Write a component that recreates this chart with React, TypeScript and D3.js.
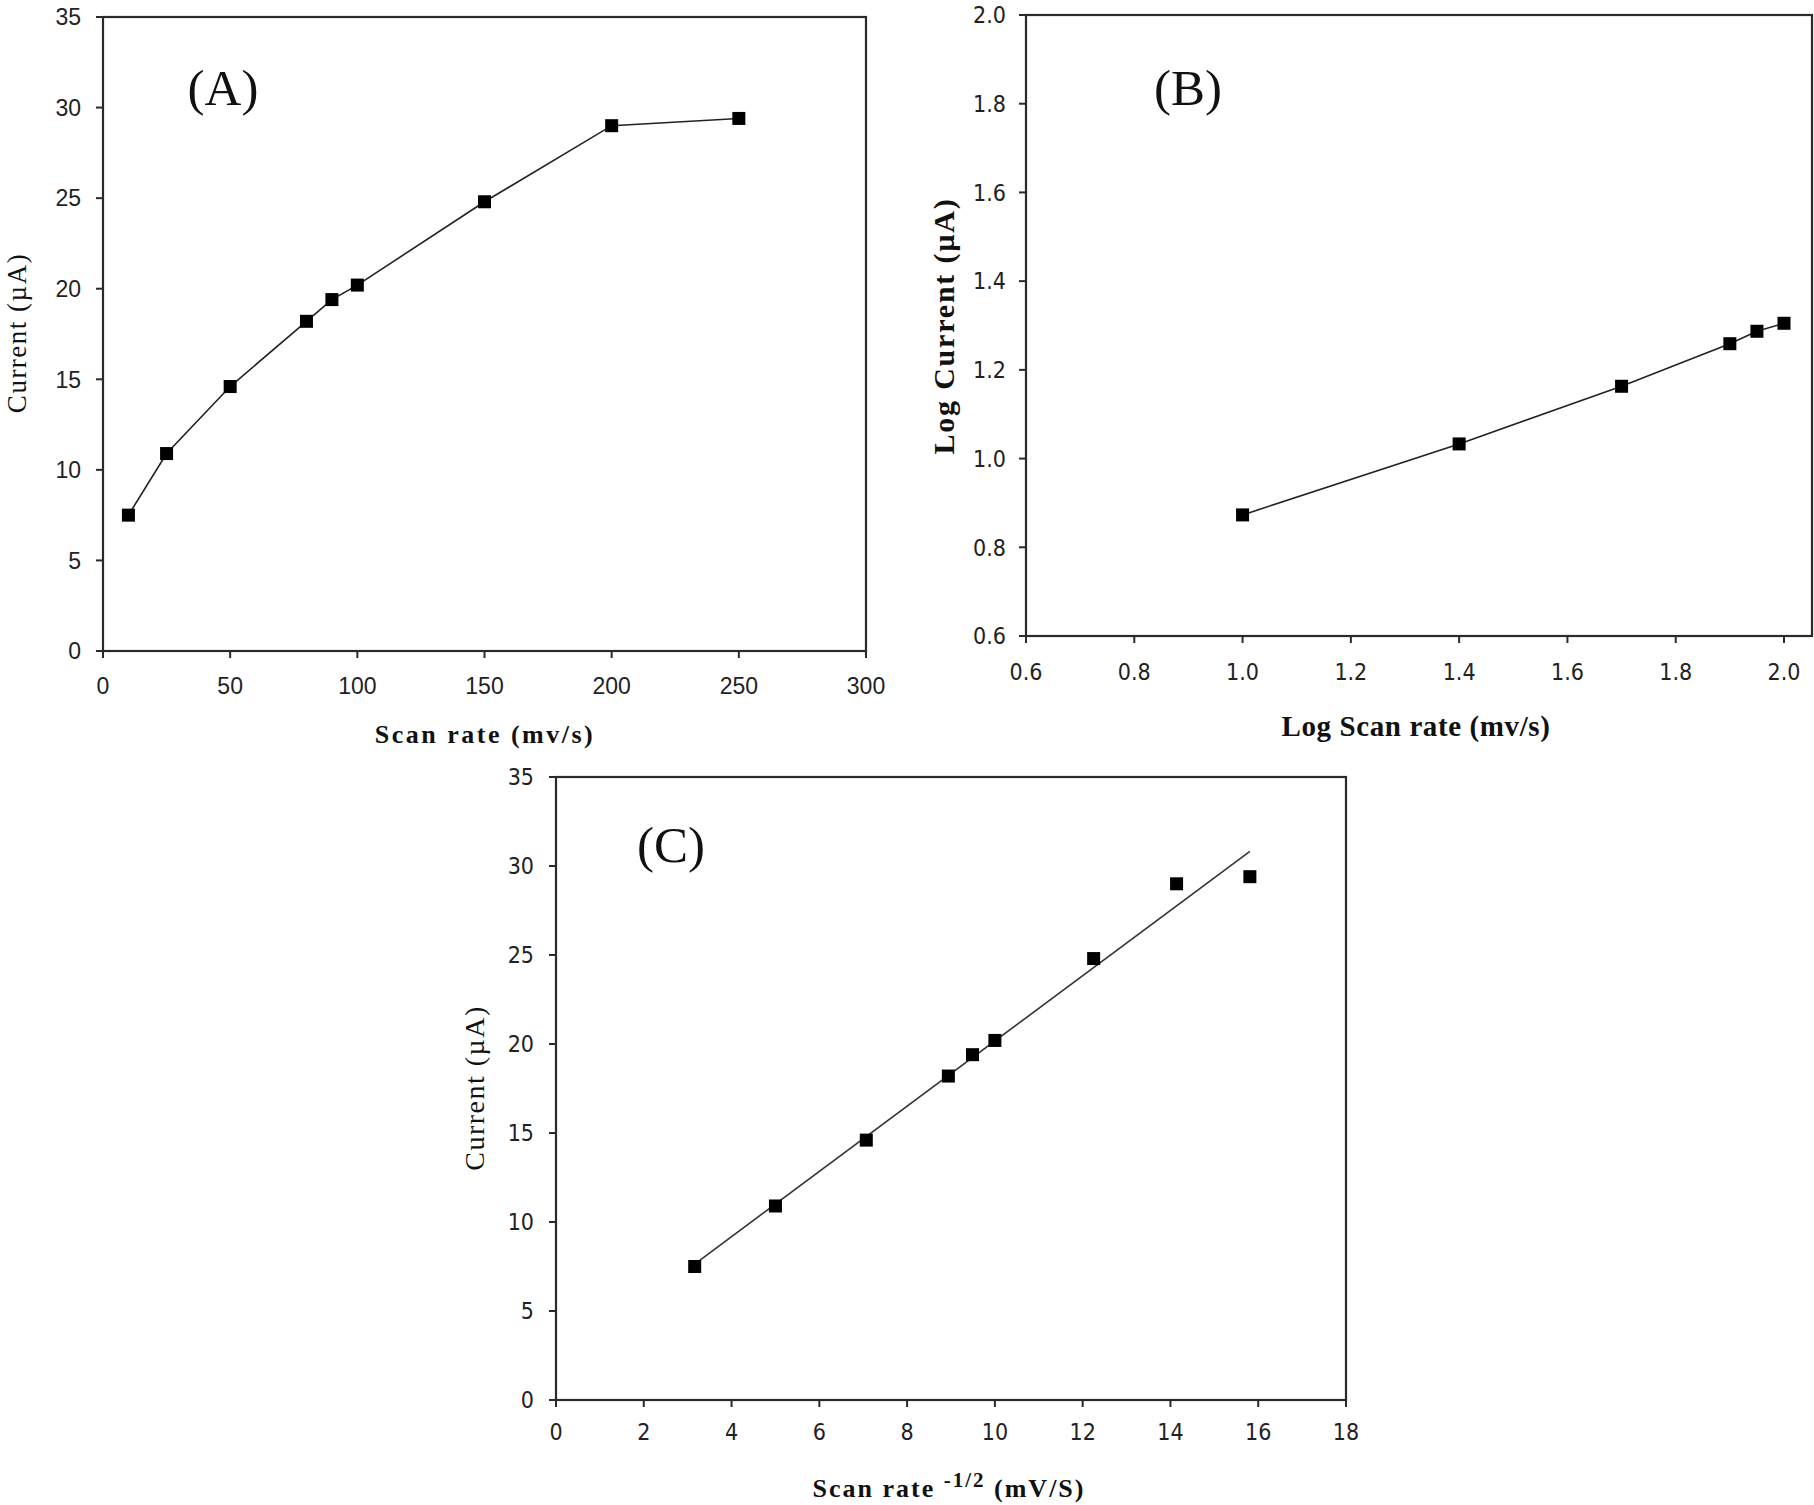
import React from "react";
import * as d3 from "d3";

// Scan rate study: peak current vs scan rate, log-log plot, and current vs square-root scan rate
const scanRate = [10, 25, 50, 80, 90, 100, 150, 200, 250];
const current = [7.5, 10.9, 14.6, 18.2, 19.4, 20.2, 24.8, 29.0, 29.4];

const logScanRate = [1.0, 1.4, 1.7, 1.9, 1.95, 2.0];
const logCurrent = [0.873, 1.033, 1.163, 1.259, 1.287, 1.305];

const sqrtScanRate = [3.16, 5.0, 7.07, 8.94, 9.49, 10.0, 12.25, 14.14, 15.81];
const fitSlope = 1.833;
const fitIntercept = 1.84;

const ticksA_x = [0, 50, 100, 150, 200, 250, 300];
const ticksA_y = [0, 5, 10, 15, 20, 25, 30, 35];
const ticksB_x = [0.6, 0.8, 1.0, 1.2, 1.4, 1.6, 1.8, 2.0];
const ticksB_y = [0.6, 0.8, 1.0, 1.2, 1.4, 1.6, 1.8, 2.0];
const ticksC_x = [0, 2, 4, 6, 8, 10, 12, 14, 16, 18];
const ticksC_y = [0, 5, 10, 15, 20, 25, 30, 35];

const AXIS = "#2a2a2a";
const SERIF = "'Liberation Serif', 'Times New Roman', serif";
const SANS = "'Liberation Sans', Arial, sans-serif";
const NARROW = "'Liberation Sans Narrow', 'DejaVu Sans Condensed', 'Liberation Sans', Arial, sans-serif";

type Box = { x0: number; x1: number; y0: number; y1: number };

function Frame({
  box, x, y, xt, yt, fmt, font, fs, xLabelDy, yLabelDx, stretch,
}: {
  box: Box; x: d3.ScaleLinear<number, number>; y: d3.ScaleLinear<number, number>;
  xt: number[]; yt: number[]; fmt: (v: number) => string; font: string; fs: number;
  xLabelDy: number; yLabelDx: number; stretch?: string;
}) {
  return (
    <g>
      <rect x={box.x0} y={box.y0} width={box.x1 - box.x0} height={box.y1 - box.y0}
        fill="none" stroke={AXIS} strokeWidth={2.2} />
      {xt.map((t) => (
        <g key={"x" + t}>
          <line x1={x(t)} x2={x(t)} y1={box.y1} y2={box.y1 + 7} stroke={AXIS} strokeWidth={2} />
          <text x={x(t)} y={box.y1 + xLabelDy} textAnchor="middle" fontFamily={font}
            fontStretch={stretch} fontSize={fs} fill="#222">{fmt(t)}</text>
        </g>
      ))}
      {yt.map((t) => (
        <g key={"y" + t}>
          <line x1={box.x0 - 7} x2={box.x0} y1={y(t)} y2={y(t)} stroke={AXIS} strokeWidth={2} />
          <text x={box.x0 - yLabelDx} y={y(t)} dy="0.36em" textAnchor="end" fontFamily={font}
            fontStretch={stretch} fontSize={fs} fill="#222">{fmt(t)}</text>
        </g>
      ))}
    </g>
  );
}

function Markers({ xs, ys, x, y, size }: { xs: number[]; ys: number[]; x: any; y: any; size: number }) {
  return (
    <g>
      {xs.map((v, i) => (
        <rect key={i} x={x(v) - size / 2} y={y(ys[i]) - size / 2} width={size} height={size} fill="#000" />
      ))}
    </g>
  );
}

export default function App() {
  // Panel A
  const boxA: Box = { x0: 103, x1: 866, y0: 17, y1: 651 };
  const xA = d3.scaleLinear().domain([0, 300]).range([boxA.x0, boxA.x1]);
  const yA = d3.scaleLinear().domain([0, 35]).range([boxA.y1, boxA.y0]);
  const lineA = d3.line<number>().x((d) => xA(d)).y((_, i) => yA(current[i]));

  // Panel B
  const boxB: Box = { x0: 1026, x1: 1812, y0: 15, y1: 636 };
  const xB = d3.scaleLinear().domain([0.6, 2.0]).range([1026, 1784]);
  const yB = d3.scaleLinear().domain([0.6, 2.0]).range([boxB.y1, boxB.y0]);
  const lineB = d3.line<number>().x((d) => xB(d)).y((_, i) => yB(logCurrent[i]));

  // Panel C
  const boxC: Box = { x0: 556, x1: 1346, y0: 777, y1: 1400 };
  const xC = d3.scaleLinear().domain([0, 18]).range([boxC.x0, boxC.x1]);
  const yC = d3.scaleLinear().domain([0, 35]).range([boxC.y1, boxC.y0]);
  const fitEnds = [sqrtScanRate[0], sqrtScanRate[sqrtScanRate.length - 1]];
  const lineC = d3.line<number>().x((d) => xC(d)).y((d) => yC(fitSlope * d + fitIntercept));

  return (
    <svg width={1814} height={1505} style={{ display: "block", position: "absolute", left: 0, top: 0 }}>
      <rect width={1814} height={1505} fill="#fff" />

      {/* (A) current vs scan rate */}
      <Frame box={boxA} x={xA} y={yA} xt={ticksA_x} yt={ticksA_y} fmt={(v) => String(v)}
        font={SANS} fs={23} xLabelDy={43} yLabelDx={22} />
      <path d={lineA(scanRate) ?? ""} fill="none" stroke="#222" strokeWidth={1.6} />
      <Markers xs={scanRate} ys={current} x={xA} y={yA} size={13} />
      <text x={223} y={105} textAnchor="middle" fontFamily={SERIF} fontSize={51} fill="#111">(A)</text>
      <text x={485} y={743} textAnchor="middle" fontFamily={SERIF} fontSize={26} fontWeight="bold"
        letterSpacing={2.5} fill="#111">Scan rate (mv/s)</text>
      <text transform="translate(26,333) rotate(-90)" textAnchor="middle" fontFamily={SERIF}
        fontSize={27} letterSpacing={1.5} fill="#111">Current (µA)</text>

      {/* (B) log current vs log scan rate */}
      <Frame box={boxB} x={xB} y={yB} xt={ticksB_x} yt={ticksB_y} fmt={(v) => v.toFixed(1)}
        font={NARROW} fs={23} xLabelDy={44} yLabelDx={20} stretch="condensed" />
      <path d={lineB(logScanRate) ?? ""} fill="none" stroke="#222" strokeWidth={1.6} />
      <Markers xs={logScanRate} ys={logCurrent} x={xB} y={yB} size={13} />
      <text x={1188} y={105} textAnchor="middle" fontFamily={SERIF} fontSize={51} fill="#111">(B)</text>
      <text x={1416} y={736} textAnchor="middle" fontFamily={SERIF} fontSize={29} fontWeight="bold"
        letterSpacing={0.6} fill="#111">Log Scan rate (mv/s)</text>
      <text transform="translate(954,326) rotate(-90)" textAnchor="middle" fontFamily={SERIF}
        fontSize={30} fontWeight="bold" letterSpacing={1.8} fill="#111">Log Current (µA)</text>

      {/* (C) current vs square-root scan rate with linear fit */}
      <Frame box={boxC} x={xC} y={yC} xt={ticksC_x} yt={ticksC_y} fmt={(v) => String(v)}
        font={NARROW} fs={23} xLabelDy={40} yLabelDx={22} stretch="condensed" />
      <path d={lineC(fitEnds) ?? ""} fill="none" stroke="#333" strokeWidth={1.6} />
      <Markers xs={sqrtScanRate} ys={current} x={xC} y={yC} size={13} />
      <text x={671} y={862} textAnchor="middle" fontFamily={SERIF} fontSize={51} fill="#111">(C)</text>
      <text x={949} y={1497} textAnchor="middle" fontFamily={SERIF} fontSize={26} fontWeight="bold"
        letterSpacing={2} fill="#111">
        Scan rate <tspan dy={-10} fontSize={21}>-1/2</tspan><tspan dy={10}> (mV/S)</tspan>
      </text>
      <text transform="translate(484,1088) rotate(-90)" textAnchor="middle" fontFamily={SERIF}
        fontSize={28} letterSpacing={1.5} fill="#111">Current (µA)</text>
    </svg>
  );
}
